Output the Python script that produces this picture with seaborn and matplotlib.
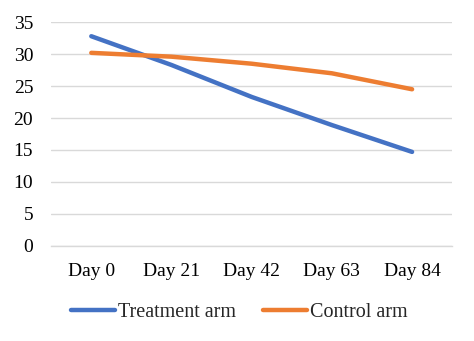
import matplotlib
matplotlib.use("Agg")
import matplotlib.pyplot as plt
import seaborn as sns
import pandas as pd

days = ["Day 0", "Day 21", "Day 42", "Day 63", "Day 84"]
treatment = [32.8, 28.3, 23.3, 18.9, 14.7]
control = [30.2, 29.6, 28.5, 27.0, 24.5]

df = pd.DataFrame({
    "day": days * 2,
    "value": treatment + control,
    "arm": ["Treatment arm"] * len(days) + ["Control arm"] * len(days),
})

sns.set_theme(style="white")
plt.rcParams["font.family"] = ["Liberation Serif", "DejaVu Serif"]

fig = plt.figure(figsize=(4.74, 3.41), dpi=100)
ax = fig.add_axes([0.108, 0.279, 0.846, 0.656])

sns.lineplot(data=df, x="day", y="value", hue="arm",
             palette={"Treatment arm": "#4472C4", "Control arm": "#ED7D31"},
             linewidth=3.2, ax=ax, sort=False, legend=True)

ax.set_xlim(-0.5, 4.5)
ax.set_ylim(0, 35)
ax.set_yticks(range(0, 36, 5))
ax.yaxis.grid(True, color="#D9D9D9", linewidth=1)
ax.set_axisbelow(True)
for s in ["top", "right", "left"]:
    ax.spines[s].set_visible(False)
ax.spines["bottom"].set_color("#D9D9D9")
ax.spines["bottom"].set_linewidth(1)
ax.set_xlabel("")
ax.set_ylabel("")
ax.tick_params(axis="y", length=0, labelsize=14, colors="black", pad=13)
ax.tick_params(axis="x", which="major", length=0, labelsize=14, colors="black", pad=12)
ax.set_xticks([-0.5, 0.5, 1.5, 2.5, 3.5, 4.5], minor=True)
ax.tick_params(axis="x", which="minor", length=5, color="#D9D9D9", width=1, direction="out")

handles, labels = ax.get_legend_handles_labels()
ax.legend_.remove()
fig.legend(handles, labels, loc="center", bbox_to_anchor=(0.505, 0.083), ncol=2,
           frameon=False, fontsize=14.5, handlelength=2.2, handletextpad=0.15,
           columnspacing=1.3)

fig.savefig("out.png", dpi=100)
